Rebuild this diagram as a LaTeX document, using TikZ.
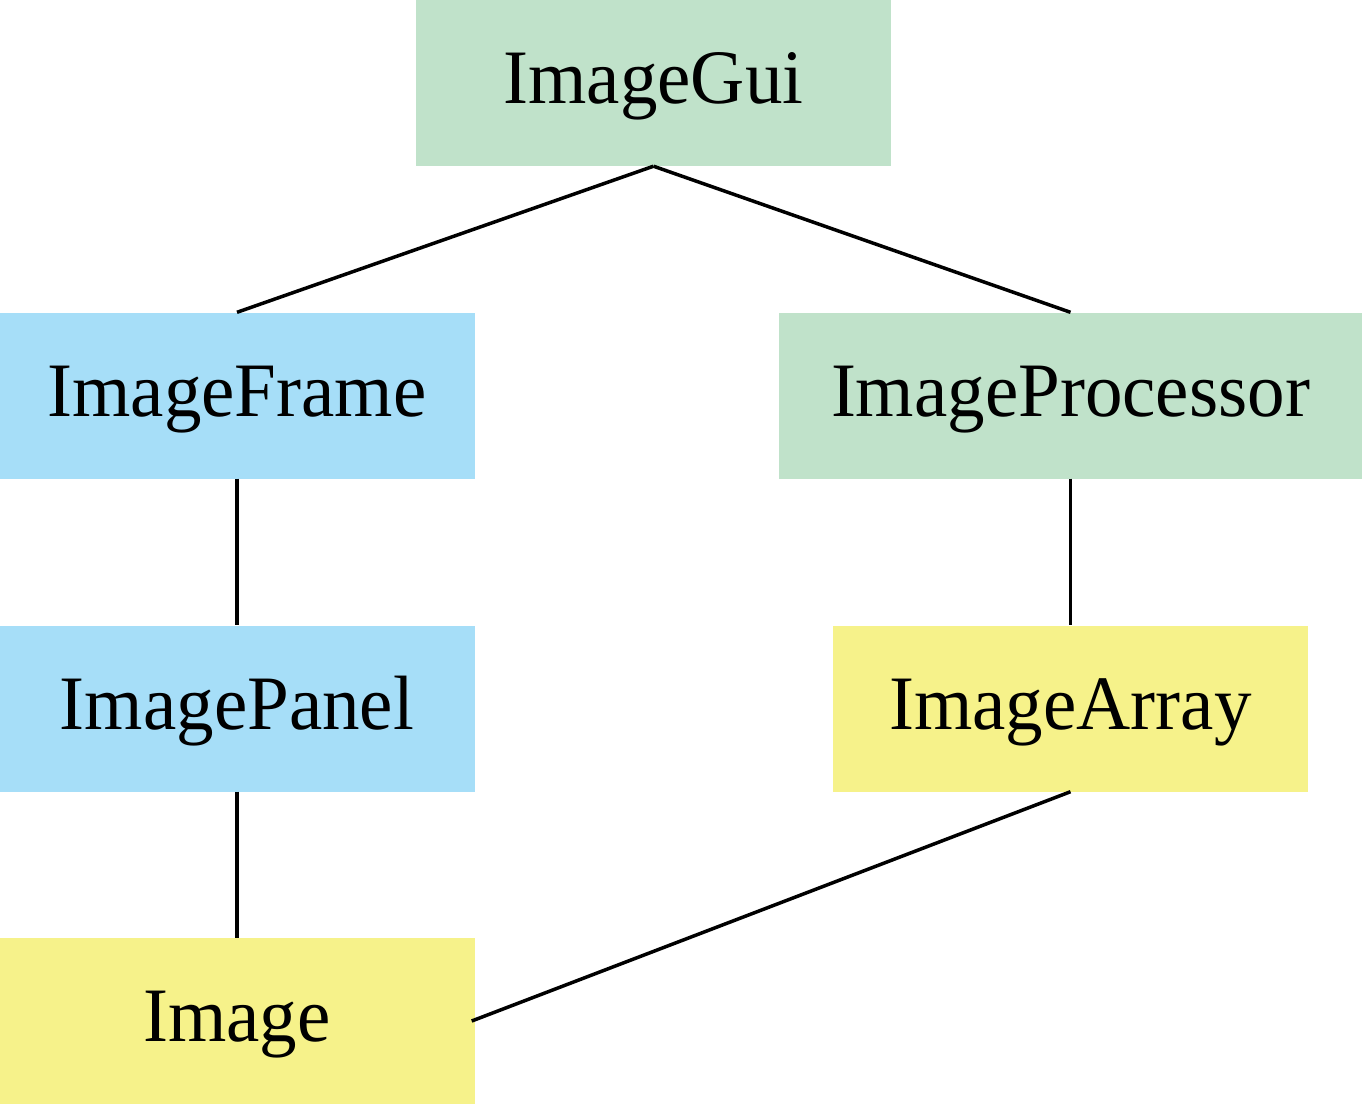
\documentclass[tikz,border=0pt]{standalone}
\usepackage{fontspec}
\setmainfont{Liberation Serif}
\definecolor{gboxc}{RGB}{192,226,202}
\definecolor{bboxc}{RGB}{166,222,248}
\definecolor{yboxc}{RGB}{246,242,138}
\newcommand{\boxlabel}[1]{\scalebox{0.974}[1]{#1}}
\begin{document}
\begin{tikzpicture}[x=1pt,y=-1pt,
  box/.style={rectangle, inner sep=0pt, minimum height=166pt, minimum width=475pt,
    text height=60pt, text depth=19pt,
    font=\fontsize{77}{90}\selectfont},
  link/.style={line width=3.5pt, black}]
\useasboundingbox (0,0) rectangle (1363,1104);
\node[box, fill=gboxc] (gui) at (653.5,83) {\boxlabel{ImageGui}};
\node[box, fill=bboxc] (frame) at (237,395.5) {\boxlabel{ImageFrame}};
\node[box, fill=gboxc, minimum width=583pt] (proc) at (1070.5,395.5) {\boxlabel{ImageProcessor}};
\node[box, fill=bboxc] (panel) at (237,708.5) {\boxlabel{ImagePanel}};
\node[box, fill=yboxc] (arr) at (1070.5,708.5) {\boxlabel{ImageArray}};
\node[box, fill=yboxc] (img) at (237,1021) {\boxlabel{Image}};
\draw[link] (gui.south) -- (frame.north);
\draw[link] (gui.south) -- (proc.north);
\draw[link] (frame.south) -- (panel.north);
\draw[link] (panel.south) -- (img.north);
\draw[link] (proc.south) -- (arr.north);
\draw[link] (arr.south) -- ([xshift=-3pt]img.east);
\end{tikzpicture}
\end{document}
